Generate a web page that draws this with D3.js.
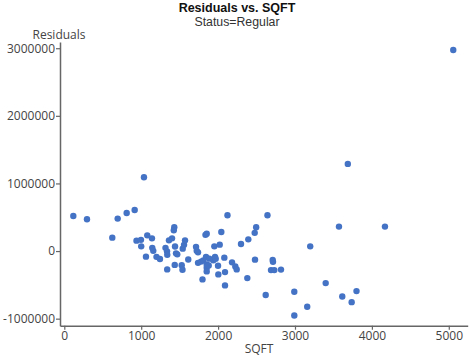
<!DOCTYPE html>
<html><head><meta charset="utf-8">
<script src="https://cdn.jsdelivr.net/npm/d3@7"></script>
<style>body{margin:0;background:#fff}svg{display:block}</style>
</head><body>
<script>
const title = "Residuals vs. SQFT";
const subtitle = "Status=Regular";
const xLabel = "SQFT";
const yLabel = "Residuals";
const xTicks = [0, 1000, 2000, 3000, 4000, 5000];
const yTicks = [-1000000, 0, 1000000, 2000000, 3000000];
const sqft = [117,295,624,694,811,915,1036,939,997,1000,1079,1140,1062,1144,1157,1199,1244,1338,1361,1401,1430,1424,1316,1336,1339,1440,1453,1469,1436,1527,1537,1540,1557,1570,1612,1713,1722,1739,1739,1778,1808,1843,1852,1852,1852,1878,1797,1836,1852,1886,1938,1951,1960,1969,1999,2003,2021,2042,2081,2090,2090,2122,2181,2224,2242,2298,2380,2393,2476,2495,2480,2642,2710,2714,2688,2731,2818,2619,2991,2991,3159,3198,3399,3572,3615,3687,3737,3800,4170,5058];
const residuals = [518500,469600,198500,480000,563000,607400,1091900,154100,165900,69600,232600,188100,-83000,47400,3000,-85900,-118500,-271100,158500,188100,351100,306700,47400,-4400,-56300,66700,-34100,-48900,-204400,-208900,-275600,35600,91900,158500,-125900,62200,3000,-19300,-174800,-155600,-137800,-85900,-197000,-245900,-300700,-211900,-419300,240000,257800,-112600,-137800,69600,-85900,-115600,-216300,-345200,94800,281500,-97800,-311100,-508100,528900,-167400,-226700,-271100,103700,-400000,173300,269600,351100,-127400,528900,-133300,-160000,-281500,-281500,-274100,-648900,-601500,-952600,-823700,69600,-474100,361500,-671100,1288900,-755600,-592600,361500,2973300];

(function () {
const W = 474, H = 357;
const font = "'Open Sans', sans-serif";
const headFont = "'Liberation Sans', Arial, sans-serif";
const axisColor = "#666", textColor = "#444", dotColor = "#4472c4";
const mL = 60, mR = 467.7, mT = 42, mB = 325.7;

const x = d3.scaleLinear().domain([-56, 5246]).range([mL, mR]);
const y = d3.scaleLinear().domain([-1104000, 3092000]).range([mB, mT]);

const svg = d3.select("body").append("svg").attr("width", W).attr("height", H);

svg.append("text").attr("x", 237).attr("y", 11.5).attr("text-anchor", "middle")
  .attr("font-family", headFont).attr("font-weight", "bold").attr("font-size", 12.5)
  .attr("fill", "#111").text(title);
svg.append("text").attr("x", 237).attr("y", 25.5).attr("text-anchor", "middle")
  .attr("font-family", headFont).attr("font-size", 12.3).attr("fill", "#333").text(subtitle);

const fmt = d => String(d);

const gx = svg.append("g").attr("transform", `translate(0,${mB})`)
  .call(d3.axisBottom(x).tickValues(xTicks).tickFormat(fmt).tickSize(4).tickSizeOuter(0).tickPadding(2));
const gy = svg.append("g").attr("transform", `translate(${mL},0)`)
  .call(d3.axisLeft(y).tickValues(yTicks).tickFormat(fmt).tickSize(4).tickSizeOuter(0).tickPadding(1));

[gx, gy].forEach(g => {
  g.select(".domain").attr("stroke", axisColor).attr("stroke-width", 1.5);
  g.selectAll(".tick line").attr("stroke", axisColor).attr("stroke-width", 1.2);
  g.selectAll(".tick text").attr("fill", textColor).attr("font-family", font).attr("font-size", 12);
});

svg.append("text").attr("x", 59).attr("y", 39).attr("text-anchor", "middle")
  .attr("font-family", font).attr("font-size", 12).attr("fill", textColor).text(yLabel);
svg.append("text").attr("x", 259).attr("y", 353).attr("text-anchor", "middle")
  .attr("font-family", font).attr("font-size", 12).attr("fill", textColor).text(xLabel);

svg.append("g").selectAll("circle").data(sqft.map((d, i) => [d, residuals[i]])).join("circle")
  .attr("cx", d => x(d[0])).attr("cy", d => y(d[1])).attr("r", 3.2).attr("fill", dotColor);
})();
</script>
</body></html>
